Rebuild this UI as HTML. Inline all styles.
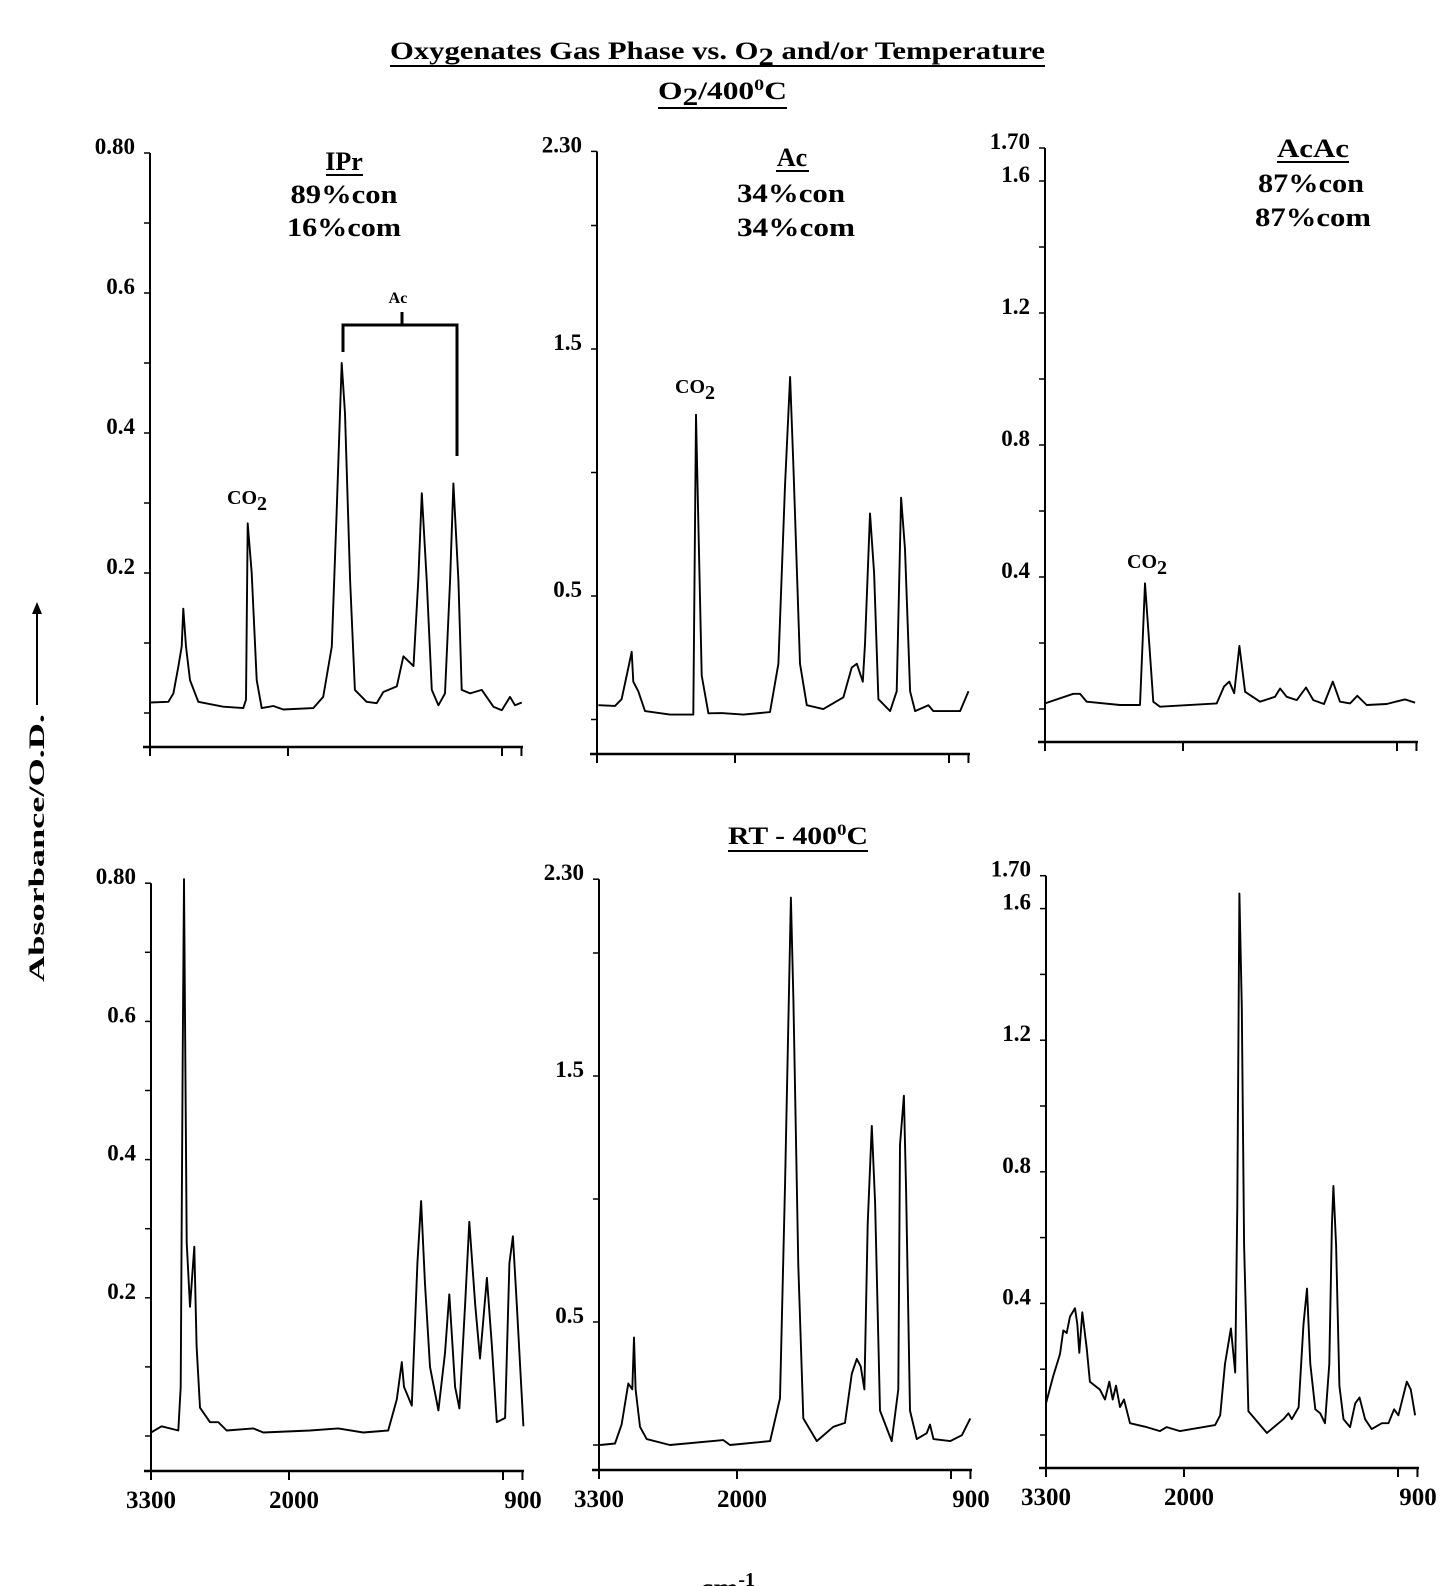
<!DOCTYPE html>
<html><head><meta charset="utf-8"><style>
html,body{margin:0;padding:0;background:#fff;}
svg{display:block;}
text{font-family:"Liberation Serif",serif;font-weight:bold;fill:#000;}
</style></head><body>
<svg id="chart" width="1442" height="1586" viewBox="0 0 1442 1586" xmlns="http://www.w3.org/2000/svg">
<g>
<text x="390" y="59" font-size="25" textLength="655" lengthAdjust="spacingAndGlyphs">Oxygenates Gas Phase vs. O<tspan dy="6">2</tspan><tspan dy="-6"> and/or Temperature</tspan></text>
<line x1="390" y1="66" x2="1045" y2="66" stroke="#000" stroke-width="2"/>
</g>
<g>
<text x="658" y="99" font-size="25" textLength="129" lengthAdjust="spacingAndGlyphs">O<tspan dy="6">2</tspan><tspan dy="-6">/400</tspan><tspan dy="-9" font-size="16">0</tspan><tspan dy="9">C</tspan></text>
<line x1="658" y1="108" x2="787" y2="108" stroke="#000" stroke-width="2"/>
</g>
<g>
<text x="728" y="844" font-size="25" textLength="140" lengthAdjust="spacingAndGlyphs">RT - 400<tspan dy="-9" font-size="16">0</tspan><tspan dy="9">C</tspan></text>
<line x1="728" y1="851" x2="868" y2="851" stroke="#000" stroke-width="2"/>
</g>
<g>
<text transform="translate(44,982) rotate(-90)" x="0" y="0" font-size="22" textLength="268" lengthAdjust="spacingAndGlyphs">Absorbance/O.D.</text>
<line x1="37" y1="705" x2="37" y2="612" stroke="#000" stroke-width="2"/>
<polygon points="37,602 32,614 42,614" fill="#000"/>
</g>
<g>
<text x="700" y="1598" font-size="30">cm<tspan dy="-12" font-size="20">-1</tspan></text>
</g>

<g>
<text x="344" y="170" font-size="26" text-anchor="middle">IPr</text>
<line x1="326" y1="175" x2="363" y2="175" stroke="#000" stroke-width="2"/>
<text x="344" y="203" font-size="26" text-anchor="middle" textLength="107" lengthAdjust="spacingAndGlyphs">89%con</text>
<text x="344" y="236" font-size="26" text-anchor="middle" textLength="114" lengthAdjust="spacingAndGlyphs">16%com</text>
</g>
<g>
<text x="792" y="166" font-size="26" text-anchor="middle">Ac</text>
<line x1="776" y1="171" x2="809" y2="171" stroke="#000" stroke-width="2"/>
<text x="791" y="202" font-size="26" text-anchor="middle" textLength="108" lengthAdjust="spacingAndGlyphs">34%con</text>
<text x="796" y="236" font-size="26" text-anchor="middle" textLength="118" lengthAdjust="spacingAndGlyphs">34%com</text>
</g>
<g>
<text x="1313" y="157" font-size="26" text-anchor="middle" textLength="72" lengthAdjust="spacingAndGlyphs">AcAc</text>
<line x1="1277" y1="162" x2="1349" y2="162" stroke="#000" stroke-width="2"/>
<text x="1311" y="192" font-size="26" text-anchor="middle" textLength="106" lengthAdjust="spacingAndGlyphs">87%con</text>
<text x="1313" y="226" font-size="26" text-anchor="middle" textLength="116" lengthAdjust="spacingAndGlyphs">87%com</text>
</g>
<g><text x="227" y="504" font-size="20">CO<tspan dy="6">2</tspan></text></g>
<g><text x="675" y="393" font-size="20">CO<tspan dy="6">2</tspan></text></g>
<g><text x="1127" y="568" font-size="20">CO<tspan dy="6">2</tspan></text></g>
<g>
<polyline points="343,352 343,325 457,325 457,456" fill="none" stroke="#000" stroke-width="3"/>
<line x1="402" y1="325" x2="402" y2="312" stroke="#000" stroke-width="3"/>
<text x="398" y="303" font-size="16" text-anchor="middle">Ac</text>
</g>
<g id="panels"></g>
</svg>
<script>
// ---- data (wavenumber cm-1, absorbance) ----
const p1Wn=[3300,3127,3080,3033,3001,2986,2961,2923,2845,2610,2421,2396,2380,2342,2295,2248,2138,2044,1870,1819,1775,1750,1724,1707,1681,1656,1596,1544,1510,1441,1407,1355,1330,1312,1287,1261,1227,1193,1167,1150,1124,1107,1064,1004,944,901,859,833,798];
const p1Abs=[0.015,0.016,0.028,0.066,0.095,0.149,0.095,0.047,0.016,0.009,0.007,0.019,0.271,0.2,0.047,0.007,0.01,0.005,0.007,0.023,0.095,0.285,0.5,0.428,0.19,0.033,0.016,0.014,0.03,0.038,0.081,0.067,0.19,0.314,0.19,0.033,0.011,0.028,0.19,0.328,0.19,0.033,0.028,0.033,0.009,0.004,0.023,0.011,0.015];
const p2Wn=[3287,3130,3068,3020,2973,2958,2911,2848,2612,2393,2367,2345,2314,2251,2126,1957,1820,1777,1743,1717,1700,1666,1631,1546,1443,1400,1374,1343,1332,1306,1285,1263,1203,1169,1146,1126,1100,1074,1006,980,843,800];
const p2Abs=[0.058,0.055,0.082,0.178,0.274,0.153,0.114,0.034,0.02,0.02,1.234,0.786,0.178,0.025,0.026,0.02,0.03,0.226,0.946,1.387,1.026,0.226,0.058,0.042,0.09,0.21,0.226,0.153,0.306,0.834,0.594,0.082,0.034,0.114,0.898,0.69,0.114,0.034,0.058,0.034,0.034,0.114];
const p3Wn=[3300,3033,2970,2907,2594,2405,2380,2358,2327,2280,2217,1827,1789,1762,1737,1710,1681,1604,1527,1501,1467,1415,1368,1330,1275,1230,1193,1141,1104,1056,953,859,807];
const p3Abs=[0.017,0.046,0.046,0.022,0.012,0.012,0.209,0.381,0.239,0.022,0.007,0.017,0.068,0.083,0.048,0.191,0.052,0.022,0.037,0.062,0.037,0.027,0.065,0.027,0.015,0.083,0.022,0.017,0.04,0.012,0.015,0.029,0.019];
const p4Wn=[3300,3200,3043,3020,3001,2989,2980,2964,2933,2892,2870,2838,2744,2666,2587,2336,2242,1892,1747,1618,1490,1446,1420,1409,1369,1340,1321,1301,1275,1232,1198,1176,1146,1124,1095,1073,1043,1018,983,957,932,889,867,849,829,795];
const p4Abs=[0.005,0.014,0.008,0.071,0.549,0.806,0.609,0.28,0.187,0.274,0.13,0.041,0.02,0.02,0.008,0.011,0.005,0.008,0.011,0.005,0.008,0.053,0.107,0.071,0.044,0.25,0.34,0.22,0.1,0.037,0.12,0.205,0.071,0.04,0.19,0.31,0.19,0.112,0.229,0.13,0.02,0.026,0.25,0.289,0.19,0.014];
const p5Wn=[3290,3149,3087,3024,2986,2970,2955,2914,2851,2632,2129,2066,1830,1779,1753,1723,1710,1685,1659,1590,1505,1445,1410,1384,1364,1345,1328,1307,1290,1265,1205,1171,1162,1142,1131,1111,1076,1025,1008,990,904,844,801];
const p5Abs=[0,0.006,0.083,0.25,0.226,0.437,0.226,0.074,0.024,0,0.02,0,0.016,0.19,1.07,2.225,1.81,0.73,0.108,0.016,0.074,0.09,0.29,0.35,0.32,0.226,0.9,1.297,0.985,0.14,0.016,0.226,1.22,1.42,1.035,0.14,0.024,0.048,0.083,0.024,0.016,0.04,0.108];
const p6Wn=[3300,3231,3168,3137,3105,3074,3027,3005,2986,2958,2917,2886,2792,2744,2704,2672,2641,2603,2565,2509,2351,2226,2163,2038,1840,1814,1789,1759,1737,1726,1715,1703,1691,1669,1574,1489,1463,1446,1411,1386,1368,1351,1325,1300,1275,1253,1240,1232,1218,1201,1180,1146,1120,1098,1069,1035,983,949,920,898,855,834,812];
const p6Abs=[0.096,0.18,0.246,0.318,0.31,0.36,0.385,0.337,0.25,0.373,0.264,0.162,0.138,0.108,0.162,0.108,0.15,0.085,0.108,0.036,0.024,0.012,0.024,0.012,0.03,0.06,0.216,0.324,0.19,0.697,1.646,1.3,0.577,0.072,0.006,0.048,0.066,0.048,0.084,0.337,0.445,0.216,0.078,0.066,0.036,0.216,0.637,0.757,0.577,0.15,0.048,0.024,0.096,0.114,0.048,0.018,0.036,0.036,0.078,0.06,0.162,0.138,0.06];

// ---- tick values & labels ----
const ticksIPr=[0,0.1,0.2,0.3,0.4,0.5,0.6,0.7,0.8];
const labelValsIPr=[0.8,0.6,0.4,0.2];
const labelTextIPr=["0.80","0.6","0.4","0.2"];
const ticksAc=[0,0.5,1.0,1.5,2.0,2.3];
const labelValsAc=[2.3,1.5,0.5];
const labelTextAc=["2.30","1.5","0.5"];
const ticksAcAc=[0,0.2,0.4,0.6,0.8,1.0,1.2,1.4,1.6,1.7];
const labelValsAcAc=[1.7,1.6,1.2,0.8,0.4];
const labelTextAcAc=["1.70","1.6","1.2","0.8","0.4"];
const xTickWn=[3300,2000,900];
const xTickText=["3300","2000","900"];

const NS="http://www.w3.org/2000/svg";
const root=document.getElementById('panels');
function mk(tag,attrs,parent){const e=document.createElementNS(NS,tag);for(const k in attrs)e.setAttribute(k,attrs[k]);parent.appendChild(e);return e;}

const panels=[
 {name:'ipr-o2',x0:150,y0:713,ky:700,top:0.8,axisY:747,wn:p1Wn,ab:p1Abs,ticks:ticksIPr,lv:labelValsIPr,lt:labelTextIPr,xl:false},
 {name:'ac-o2',x0:597,y0:719.5,ky:247,top:2.3,axisY:754,wn:p2Wn,ab:p2Abs,ticks:ticksAc,lv:labelValsAc,lt:labelTextAc,xl:false},
 {name:'acac-o2',x0:1045,y0:709,ky:330,top:1.7,axisY:742,wn:p3Wn,ab:p3Abs,ticks:ticksAcAc,lv:labelValsAcAc,lt:labelTextAcAc,xl:false},
 {name:'ipr-rt',x0:151,y0:1436,ky:691,top:0.8,axisY:1471,wn:p4Wn,ab:p4Abs,ticks:ticksIPr,lv:labelValsIPr,lt:labelTextIPr,xl:true},
 {name:'ac-rt',x0:599,y0:1445,ky:246,top:2.3,axisY:1470,wn:p5Wn,ab:p5Abs,ticks:ticksAc,lv:labelValsAc,lt:labelTextAc,xl:true},
 {name:'acac-rt',x0:1046,y0:1435,ky:329,top:1.7,axisY:1468,wn:p6Wn,ab:p6Abs,ticks:ticksAcAc,lv:labelValsAcAc,lt:labelTextAcAc,xl:true}
];

panels.forEach(p=>{
 const xs=w=> w>=2000 ? p.x0+(3300-w)/1300*138 : p.x0+138+(2000-w)/1100*214;
 const ys=a=> p.y0-a*p.ky;
 const g=mk('g',{},root);
 
 
 const ya=mk('line',{x1:p.x0,y1:ys(p.top),x2:p.x0,y2:p.axisY,stroke:'#000','stroke-width':2},g);
 
 
 const xa=mk('line',{x1:p.x0-7,y1:p.axisY,x2:p.x0+373,y2:p.axisY,stroke:'#000','stroke-width':2.5},g);
 
 
 p.ticks.forEach(v=>{
  const t=mk('line',{x1:p.x0-6,y1:ys(v),x2:p.x0,y2:ys(v),stroke:'#000','stroke-width':1.5},g);
  
  
 });
 p.lv.forEach((v,i)=>{
  const t=mk('text',{x:p.x0-15,y:ys(v)+1,'font-size':23,'text-anchor':'end'},g);
  t.textContent=p.lt[i];
  
  
 });
 xTickWn.concat([800]).forEach(w=>{
  const t=mk('line',{x1:xs(w),y1:p.axisY,x2:xs(w),y2:p.axisY+9,stroke:'#000','stroke-width':2},g);
  
  
 });
 if(p.xl){
  xTickWn.forEach((w,i)=>{
   const off=(w===900)?20:(w===2000?5:0);
   const t=mk('text',{x:xs(w)+off,y:p.axisY+37,'font-size':25,'text-anchor':'middle'},g);
   t.textContent=xTickText[i];
   
   
  });
 }
 const pts=p.wn.map((w,i)=>xs(w).toFixed(1)+','+ys(p.ab[i]).toFixed(1)).join(' ');
 const line=mk('polyline',{points:pts,fill:'none',stroke:'#000','stroke-width':1.9,'stroke-linejoin':'round'},g);
 
 
});
</script>
</body></html>
